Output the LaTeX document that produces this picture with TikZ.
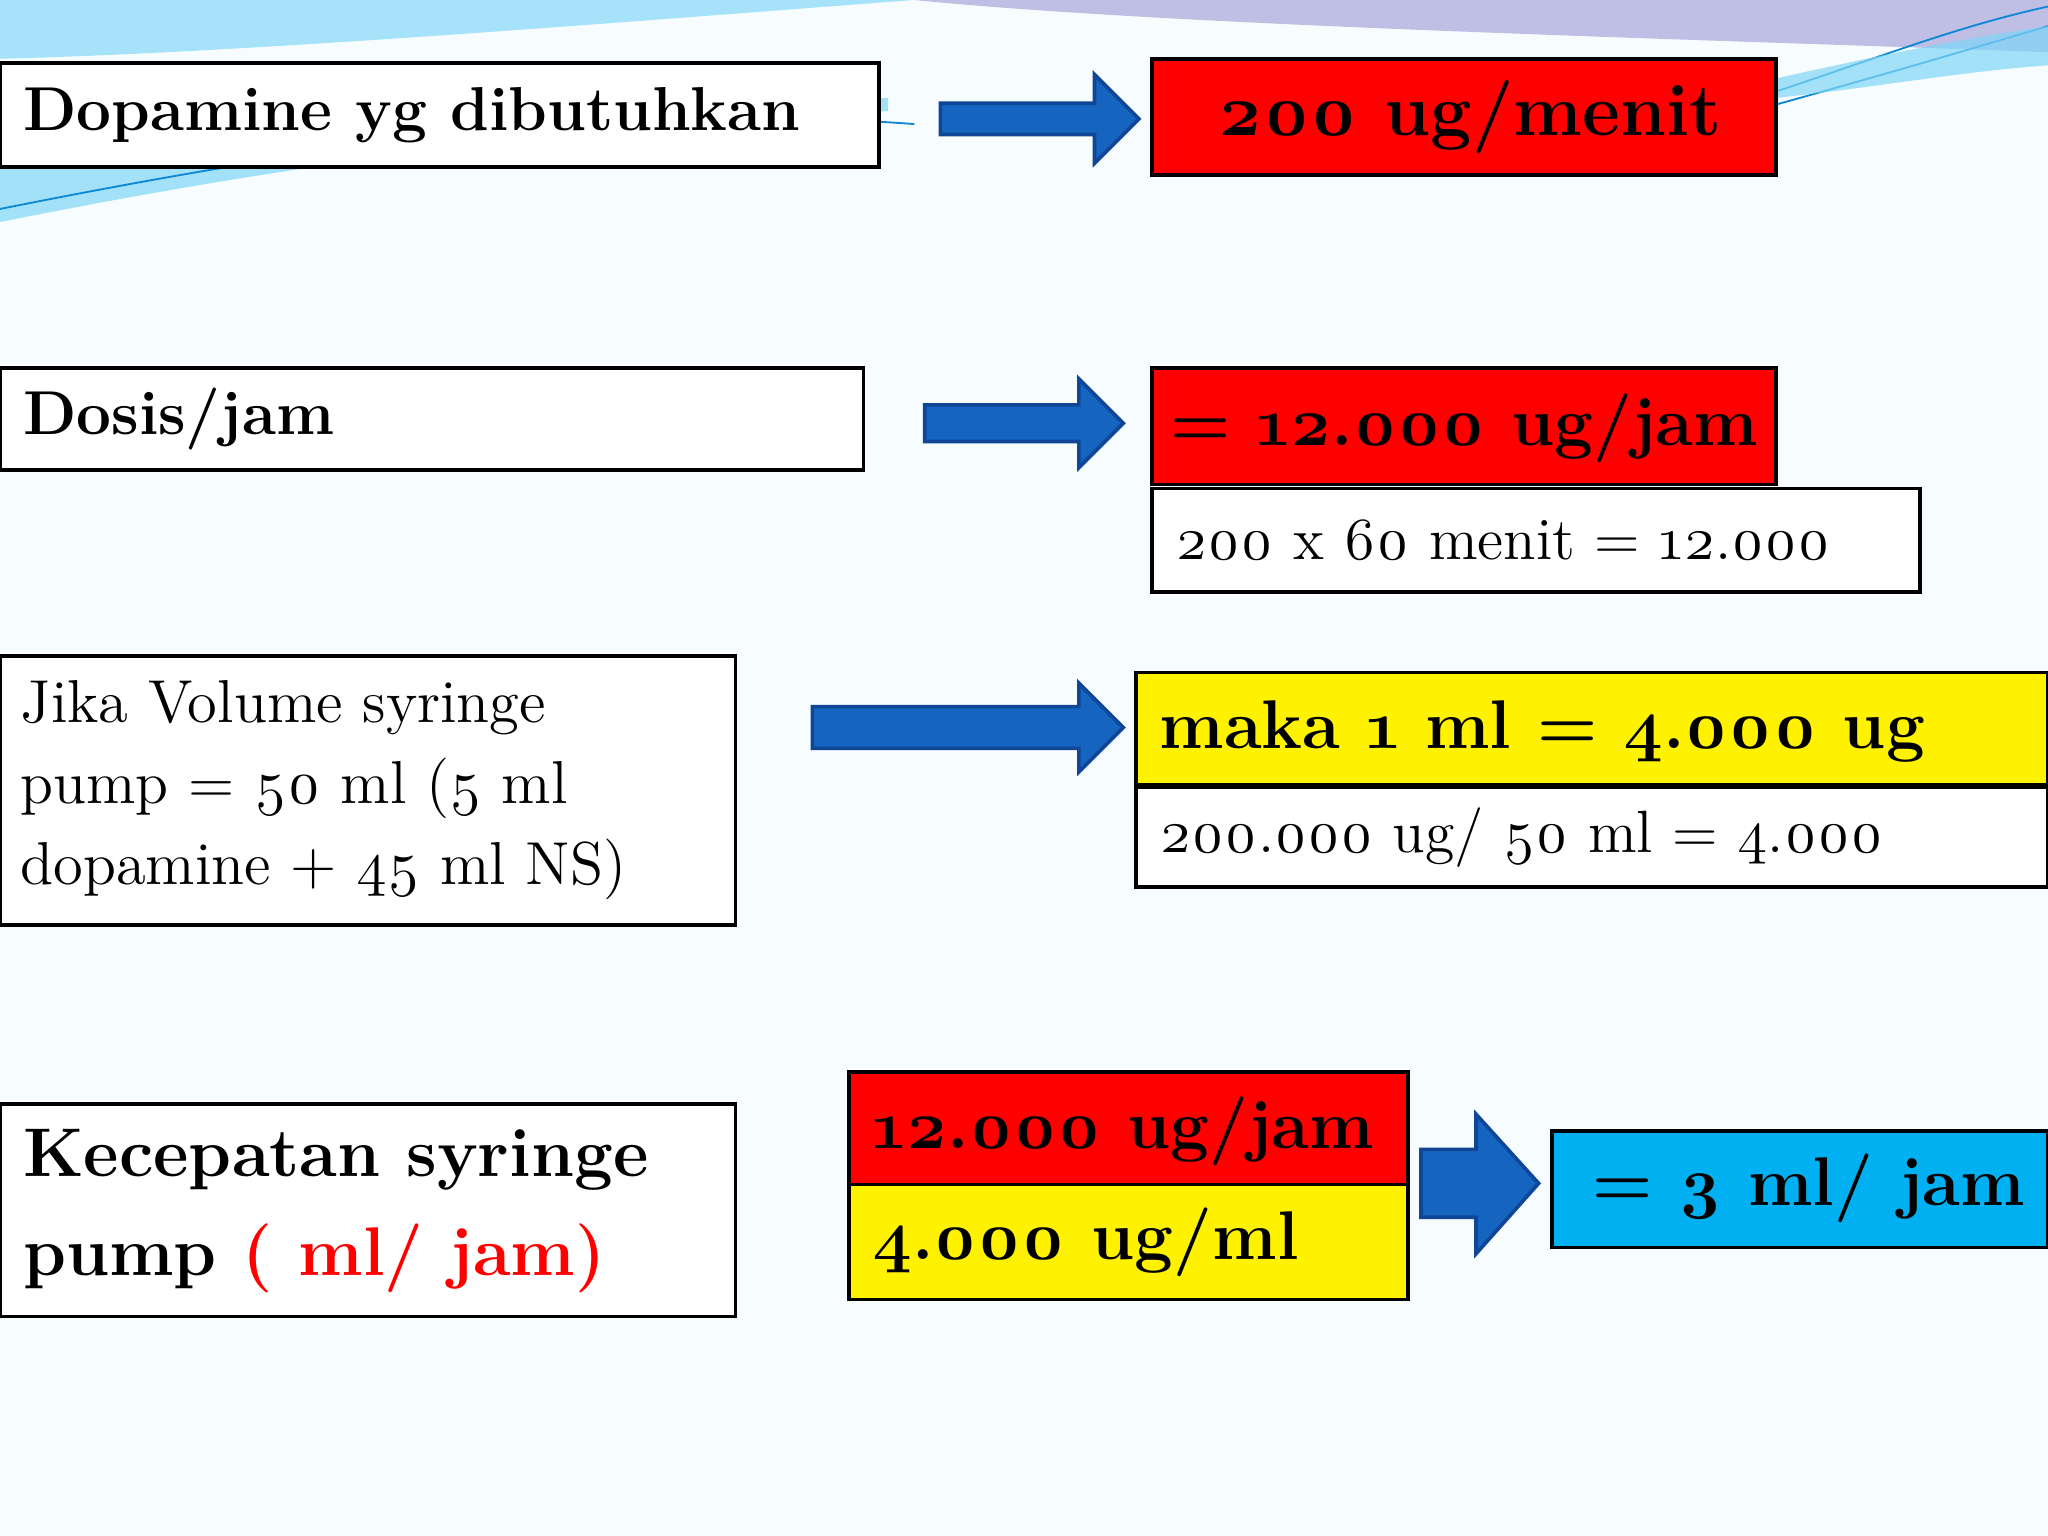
\documentclass[tikz,border=0pt]{standalone}
\usepackage{fontspec}
\setmainfont{Latin Modern Roman}[Numbers=OldStyle]
\begin{document}
\begin{tikzpicture}[x=0.01cm,y=-0.01cm,
  bx/.style={draw=black,line width=0.8pt,inner sep=0pt,anchor=north west},
  lt/.style={align=left,inner xsep=0.17cm},
  arr/.style={fill={rgb,255:red,21;green,101;blue,192},draw={rgb,255:red,15;green,70;blue,150},line width=0.8pt}]
\useasboundingbox (0,0) rectangle (1568,1176);
\fill[white!97!cyan] (0,0) rectangle (1568,1176);
% top swoosh
\fill[cyan!20!blue!25] (0,0) -- (1568,0) -- (1568,40) .. controls (1300,30) and (900,20) .. (700,0) -- cycle;
\fill[cyan!35!white] (0,0) -- (700,0) .. controls (500,15) and (200,40) .. (0,45) -- cycle;
\fill[cyan!50!white,opacity=0.7] (0,120) .. controls (200,95) and (450,85) .. (680,75) -- (680,85) .. controls (400,100) and (200,130) .. (0,170) -- cycle;
\draw[cyan!70!blue] (0,160) .. controls (300,100) and (500,80) .. (700,95);
\draw[cyan!70!blue] (1360,70) .. controls (1450,40) and (1500,20) .. (1568,5);
\draw[cyan!70!blue] (1360,80) .. controls (1450,55) and (1500,40) .. (1568,20);
\fill[cyan!50!white,opacity=0.7] (1360,60) .. controls (1450,40) and (1500,30) .. (1568,20) -- (1568,50) .. controls (1500,55) and (1450,65) .. (1360,75) -- cycle;
% boxes
\draw[bx,fill=white] (0,48) rectangle (673,128);
\node[lt,anchor=west,font=\fontsize{13.5}{16}\selectfont\bfseries] (a1) at (0,88) {Dopamine yg dibutuhkan};
\draw[bx,fill=red] (882,45) rectangle (1360,134);
\node[font=\fontsize{16}{18}\selectfont\bfseries] (b1) at (1125,90) {200 ug/menit};
\draw[bx,fill=white] (0,282) rectangle (661,360);
\node[lt,anchor=west,font=\fontsize{13.5}{16}\selectfont\bfseries] (a2) at (0,321) {Dosis/jam};
\draw[bx,fill=red] (882,282) rectangle (1360,371);
\node[font=\fontsize{15}{18}\selectfont\bfseries] (b2) at (1121,328) {= 12.000 ug/jam};
\draw[bx,fill=white] (882,374) rectangle (1470,453);
\node[lt,anchor=west,font=\fontsize{13}{15}\selectfont] (c2) at (882,414) {200 x 60 menit = 12.000};
\draw[bx,fill=white] (0,502) rectangle (563,708);
\node[lt,anchor=west,inner xsep=0.15cm,font=\fontsize{13.2}{17.6}\selectfont] (a3) at (0,605) {Jika Volume syringe\\pump = 50 ml (5 ml\\dopamine + 45 ml NS)};
\draw[bx,fill=yellow] (870,515) rectangle (1568,601);
\node[lt,anchor=west,font=\fontsize{15}{18}\selectfont\bfseries] (b3) at (870,560) {maka 1 ml = 4.000 ug};
\draw[bx,fill=white] (870,603) rectangle (1568,679);
\node[lt,anchor=west,font=\fontsize{13}{15}\selectfont] (c3) at (870,641) {200.000 ug/ 50 ml = 4.000};
\draw[bx,fill=white] (0,845) rectangle (563,1008);
\node[lt,anchor=west,font=\fontsize{15}{21.5}\selectfont\bfseries] (a4) at (0,927) {Kecepatan syringe\\pump {\color{red}( ml/ jam)}};
\draw[bx,fill=red] (650,821) rectangle (1078,907);
\node[lt,anchor=west,font=\fontsize{15}{18}\selectfont\bfseries] (b4) at (650,866) {12.000 ug/jam};
\draw[bx,fill=yellow] (650,907) rectangle (1078,995);
\node[lt,anchor=west,font=\fontsize{15}{18}\selectfont\bfseries] (c4) at (650,951) {4.000 ug/ml};
\draw[bx,fill={rgb,255:red,0;green,176;blue,240}] (1188,866) rectangle (1568,955);
\node[font=\fontsize{15}{18}\selectfont\bfseries] (d4) at (1385,910) {= 3 ml/ jam};
% arrows
\draw[arr] (720,79) -- (838,79) -- (838,57) -- (872,91) -- (838,125) -- (838,103) -- (720,103) -- cycle;
\draw[arr] (708,310) -- (826,310) -- (826,290) -- (860,324) -- (826,358) -- (826,338) -- (708,338) -- cycle;
\draw[arr] (622,541) -- (826,541) -- (826,523) -- (860,557) -- (826,591) -- (826,573) -- (622,573) -- cycle;
\draw[arr] (1088,880) -- (1130,880) -- (1130,853) -- (1178,906) -- (1130,960) -- (1130,932) -- (1088,932) -- cycle;
\end{tikzpicture}
\end{document}
